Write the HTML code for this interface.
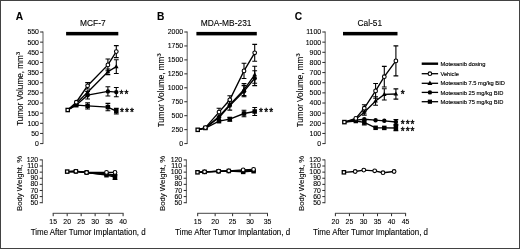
<!DOCTYPE html>
<html><head><meta charset="utf-8"><style>
html,body{margin:0;padding:0;background:#fff;}
body{width:520px;height:249px;overflow:hidden;position:relative;}
svg{position:absolute;left:0;top:0;display:block;}
text{font-family:"Liberation Sans", Arial, sans-serif;fill:#000;stroke:#000;stroke-width:0.1px;}
</style></head><body>
<svg width="520" height="249" viewBox="0 0 520 249">
<rect x="0" y="0" width="520" height="249" fill="#fff"/>

<text x="15.8" y="19.6" font-size="10.2" text-anchor="start" font-weight="bold" >A</text>
<text x="92.8" y="26.1" font-size="8.4" text-anchor="middle" font-weight="normal" >MCF-7</text>
<rect x="66.1" y="31.9" width="52.2" height="3.5" fill="#000"/>
<path d="M43 31.5V144.1" stroke="#6a6a6a" stroke-width="1.1" fill="none"/>
<path d="M40.1 32H43" stroke="#2a2a2a" stroke-width="1"/>
<text x="38.9" y="34.45" font-size="6.9" text-anchor="end" font-weight="normal" >550</text>
<path d="M40.1 42.15H43" stroke="#2a2a2a" stroke-width="1"/>
<text x="38.9" y="44.6" font-size="6.9" text-anchor="end" font-weight="normal" >500</text>
<path d="M40.1 52.29H43" stroke="#2a2a2a" stroke-width="1"/>
<text x="38.9" y="54.74" font-size="6.9" text-anchor="end" font-weight="normal" >450</text>
<path d="M40.1 62.44H43" stroke="#2a2a2a" stroke-width="1"/>
<text x="38.9" y="64.89" font-size="6.9" text-anchor="end" font-weight="normal" >400</text>
<path d="M40.1 72.58H43" stroke="#2a2a2a" stroke-width="1"/>
<text x="38.9" y="75.03" font-size="6.9" text-anchor="end" font-weight="normal" >350</text>
<path d="M40.1 82.73H43" stroke="#2a2a2a" stroke-width="1"/>
<text x="38.9" y="85.18" font-size="6.9" text-anchor="end" font-weight="normal" >300</text>
<path d="M40.1 92.87H43" stroke="#2a2a2a" stroke-width="1"/>
<text x="38.9" y="95.32" font-size="6.9" text-anchor="end" font-weight="normal" >250</text>
<path d="M40.1 103.02H43" stroke="#2a2a2a" stroke-width="1"/>
<text x="38.9" y="105.47" font-size="6.9" text-anchor="end" font-weight="normal" >200</text>
<path d="M40.1 113.16H43" stroke="#2a2a2a" stroke-width="1"/>
<text x="38.9" y="115.61" font-size="6.9" text-anchor="end" font-weight="normal" >150</text>
<path d="M40.1 123.31H43" stroke="#2a2a2a" stroke-width="1"/>
<text x="38.9" y="125.76" font-size="6.9" text-anchor="end" font-weight="normal" >100</text>
<path d="M40.1 133.45H43" stroke="#2a2a2a" stroke-width="1"/>
<text x="38.9" y="135.9" font-size="6.9" text-anchor="end" font-weight="normal" >50</text>
<path d="M40.1 143.6H43" stroke="#2a2a2a" stroke-width="1"/>
<text x="38.9" y="146.05" font-size="6.9" text-anchor="end" font-weight="normal" >0</text>
<path d="M42.4 159.4V203.2" stroke="#6a6a6a" stroke-width="1.1" fill="none"/>
<path d="M39.7 159.9H42.4" stroke="#2a2a2a" stroke-width="1"/>
<text x="38.2" y="162" font-size="6.9" text-anchor="end" font-weight="normal" >120</text>
<path d="M39.7 166.01H42.4" stroke="#2a2a2a" stroke-width="1"/>
<text x="38.2" y="168.11" font-size="6.9" text-anchor="end" font-weight="normal" >110</text>
<path d="M39.7 172.13H42.4" stroke="#2a2a2a" stroke-width="1"/>
<text x="38.2" y="174.23" font-size="6.9" text-anchor="end" font-weight="normal" >100</text>
<path d="M39.7 178.24H42.4" stroke="#2a2a2a" stroke-width="1"/>
<text x="38.2" y="180.34" font-size="6.9" text-anchor="end" font-weight="normal" >90</text>
<path d="M39.7 184.36H42.4" stroke="#2a2a2a" stroke-width="1"/>
<text x="38.2" y="186.46" font-size="6.9" text-anchor="end" font-weight="normal" >80</text>
<path d="M39.7 190.47H42.4" stroke="#2a2a2a" stroke-width="1"/>
<text x="38.2" y="192.57" font-size="6.9" text-anchor="end" font-weight="normal" >70</text>
<path d="M39.7 196.59H42.4" stroke="#2a2a2a" stroke-width="1"/>
<text x="38.2" y="198.69" font-size="6.9" text-anchor="end" font-weight="normal" >60</text>
<path d="M39.7 202.7H42.4" stroke="#2a2a2a" stroke-width="1"/>
<text x="38.2" y="204.8" font-size="6.9" text-anchor="end" font-weight="normal" >50</text>
<path d="M52.7 213.4H123.6" stroke="#6a6a6a" stroke-width="1.1" fill="none"/>
<path d="M53.2 213.4V216.2" stroke="#2a2a2a" stroke-width="1"/>
<text x="53.2" y="223.9" font-size="6.9" text-anchor="middle" font-weight="normal" >15</text>
<path d="M67.18 213.4V216.2" stroke="#2a2a2a" stroke-width="1"/>
<text x="67.18" y="223.9" font-size="6.9" text-anchor="middle" font-weight="normal" >20</text>
<path d="M81.16 213.4V216.2" stroke="#2a2a2a" stroke-width="1"/>
<text x="81.16" y="223.9" font-size="6.9" text-anchor="middle" font-weight="normal" >25</text>
<path d="M95.14 213.4V216.2" stroke="#2a2a2a" stroke-width="1"/>
<text x="95.14" y="223.9" font-size="6.9" text-anchor="middle" font-weight="normal" >30</text>
<path d="M109.12 213.4V216.2" stroke="#2a2a2a" stroke-width="1"/>
<text x="109.12" y="223.9" font-size="6.9" text-anchor="middle" font-weight="normal" >35</text>
<path d="M123.1 213.4V216.2" stroke="#2a2a2a" stroke-width="1"/>
<text x="123.1" y="223.9" font-size="6.9" text-anchor="middle" font-weight="normal" >40</text>
<text x="88.2" y="234.6" font-size="8.2" text-anchor="middle" font-weight="normal" textLength="115" lengthAdjust="spacingAndGlyphs">Time After Tumor Implantation, d</text>
<text transform="translate(22.9,88.85) rotate(-90)" font-size="8.15" text-anchor="middle">Tumor Volume, mm<tspan font-size="6.2" dy="-3.0">3</tspan></text>
<text transform="translate(22.4,183.4) rotate(-90)" font-size="7.8" text-anchor="middle">Body Weight, %</text>
<polyline points="67.7,110 76.3,105.2 87.6,105.9 107.9,107.1 116.3,111.2" fill="none" stroke="#000" stroke-width="1.35"/>
<path d="M87.6 102.8V109M85.2 102.8H90M85.2 109H90" stroke="#000" stroke-width="1.1" fill="none"/>
<path d="M107.9 103.4V110.8M105.5 103.4H110.3M105.5 110.8H110.3" stroke="#000" stroke-width="1.1" fill="none"/>
<path d="M116.3 108.4V114M113.9 108.4H118.7M113.9 114H118.7" stroke="#000" stroke-width="1.1" fill="none"/>
<rect x="74.05" y="102.95" width="4.5" height="4.5" fill="#000"/>
<rect x="85.35" y="103.65" width="4.5" height="4.5" fill="#000"/>
<rect x="105.65" y="104.85" width="4.5" height="4.5" fill="#000"/>
<rect x="114.05" y="108.95" width="4.5" height="4.5" fill="#000"/>
<polyline points="67.7,110 76.3,104.9 87.6,95.2 107.9,91.4 116.3,92.1" fill="none" stroke="#000" stroke-width="1.35"/>
<path d="M87.6 91.4V99M85.2 91.4H90M85.2 99H90" stroke="#000" stroke-width="1.1" fill="none"/>
<path d="M107.9 86.8V96M105.5 86.8H110.3M105.5 96H110.3" stroke="#000" stroke-width="1.1" fill="none"/>
<path d="M116.3 87.5V96.7M113.9 87.5H118.7M113.9 96.7H118.7" stroke="#000" stroke-width="1.1" fill="none"/>
<circle cx="76.3" cy="104.9" r="2.2" fill="#000"/>
<circle cx="87.6" cy="95.2" r="2.2" fill="#000"/>
<circle cx="107.9" cy="91.4" r="2.2" fill="#000"/>
<circle cx="116.3" cy="92.1" r="2.2" fill="#000"/>
<polyline points="67.7,110 76.3,103.6 87.6,92.2 107.9,71.8 116.3,66.6" fill="none" stroke="#000" stroke-width="1.35"/>
<path d="M107.9 69V74.6M105.5 69H110.3M105.5 74.6H110.3" stroke="#000" stroke-width="1.1" fill="none"/>
<path d="M116.3 59.7V73.5M113.9 59.7H118.7M113.9 73.5H118.7" stroke="#000" stroke-width="1.1" fill="none"/>
<polygon points="76.3,101.03 74,105.17 78.6,105.17" fill="#000"/>
<polygon points="87.6,89.63 85.3,93.77 89.9,93.77" fill="#000"/>
<polygon points="107.9,69.23 105.6,73.37 110.2,73.37" fill="#000"/>
<polygon points="116.3,64.03 114,68.17 118.6,68.17" fill="#000"/>
<polyline points="67.7,110 76.3,102.2 87.6,85.8 107.9,64.9 116.3,51.6" fill="none" stroke="#000" stroke-width="1.35"/>
<path d="M87.6 82.6V89M85.2 82.6H90M85.2 89H90" stroke="#000" stroke-width="1.1" fill="none"/>
<path d="M107.9 59V70.8M105.5 59H110.3M105.5 70.8H110.3" stroke="#000" stroke-width="1.1" fill="none"/>
<path d="M116.3 45.6V57.6M113.9 45.6H118.7M113.9 57.6H118.7" stroke="#000" stroke-width="1.1" fill="none"/>
<circle cx="76.3" cy="102.2" r="1.85" fill="#fff" stroke="#000" stroke-width="1.1"/>
<circle cx="87.6" cy="85.8" r="1.85" fill="#fff" stroke="#000" stroke-width="1.1"/>
<circle cx="107.9" cy="64.9" r="1.85" fill="#fff" stroke="#000" stroke-width="1.1"/>
<circle cx="116.3" cy="51.6" r="1.85" fill="#fff" stroke="#000" stroke-width="1.1"/>
<rect x="66.05" y="108.35" width="3.3" height="3.3" fill="#fff" stroke="#000" stroke-width="1.3"/>
<polyline points="67.2,171.6 75.9,171.4 86.6,172.5 106.5,175.2 115,177" fill="none" stroke="#000" stroke-width="1.35"/>
<path d="M115 174.5V179.5M112.6 174.5H117.4M112.6 179.5H117.4" stroke="#000" stroke-width="1.1" fill="none"/>
<rect x="73.65" y="169.15" width="4.5" height="4.5" fill="#000"/>
<rect x="84.35" y="170.25" width="4.5" height="4.5" fill="#000"/>
<rect x="104.25" y="172.95" width="4.5" height="4.5" fill="#000"/>
<rect x="112.75" y="174.75" width="4.5" height="4.5" fill="#000"/>
<polyline points="67.2,171.6 75.9,171.4 86.6,172.5 106.5,174.6 115,175.6" fill="none" stroke="#000" stroke-width="1.35"/>
<circle cx="75.9" cy="171.4" r="2.2" fill="#000"/>
<circle cx="86.6" cy="172.5" r="2.2" fill="#000"/>
<circle cx="106.5" cy="174.6" r="2.2" fill="#000"/>
<circle cx="115" cy="175.6" r="2.2" fill="#000"/>
<polyline points="67.2,171.6 75.9,171.4 86.6,172.5 106.5,173.9 115,174.8" fill="none" stroke="#000" stroke-width="1.35"/>
<polygon points="75.9,168.83 73.6,172.97 78.2,172.97" fill="#000"/>
<polygon points="86.6,169.93 84.3,174.07 88.9,174.07" fill="#000"/>
<polygon points="106.5,171.33 104.2,175.47 108.8,175.47" fill="#000"/>
<polygon points="115,172.23 112.7,176.37 117.3,176.37" fill="#000"/>
<polyline points="67.2,171.6 75.9,171.3 86.6,172.5 106.5,172.4 115,172.4" fill="none" stroke="#000" stroke-width="1.35"/>
<circle cx="75.9" cy="171.3" r="1.85" fill="#fff" stroke="#000" stroke-width="1.1"/>
<circle cx="86.6" cy="172.5" r="1.85" fill="#fff" stroke="#000" stroke-width="1.1"/>
<circle cx="106.5" cy="172.4" r="1.85" fill="#fff" stroke="#000" stroke-width="1.1"/>
<circle cx="115" cy="172.4" r="1.85" fill="#fff" stroke="#000" stroke-width="1.1"/>
<rect x="65.55" y="169.95" width="3.3" height="3.3" fill="#fff" stroke="#000" stroke-width="1.3"/>
<text x="157" y="19.6" font-size="10.2" text-anchor="start" font-weight="bold" >B</text>
<text x="226.1" y="26.1" font-size="8.4" text-anchor="middle" font-weight="normal" >MDA-MB-231</text>
<rect x="196.4" y="31.9" width="60.4" height="3.5" fill="#000"/>
<path d="M187.2 31.5V144.1" stroke="#6a6a6a" stroke-width="1.1" fill="none"/>
<path d="M184.3 32H187.2" stroke="#2a2a2a" stroke-width="1"/>
<text x="183.1" y="34.45" font-size="6.9" text-anchor="end" font-weight="normal" >2000</text>
<path d="M184.3 45.95H187.2" stroke="#2a2a2a" stroke-width="1"/>
<text x="183.1" y="48.4" font-size="6.9" text-anchor="end" font-weight="normal" >1750</text>
<path d="M184.3 59.9H187.2" stroke="#2a2a2a" stroke-width="1"/>
<text x="183.1" y="62.35" font-size="6.9" text-anchor="end" font-weight="normal" >1500</text>
<path d="M184.3 73.85H187.2" stroke="#2a2a2a" stroke-width="1"/>
<text x="183.1" y="76.3" font-size="6.9" text-anchor="end" font-weight="normal" >1250</text>
<path d="M184.3 87.8H187.2" stroke="#2a2a2a" stroke-width="1"/>
<text x="183.1" y="90.25" font-size="6.9" text-anchor="end" font-weight="normal" >1000</text>
<path d="M184.3 101.75H187.2" stroke="#2a2a2a" stroke-width="1"/>
<text x="183.1" y="104.2" font-size="6.9" text-anchor="end" font-weight="normal" >750</text>
<path d="M184.3 115.7H187.2" stroke="#2a2a2a" stroke-width="1"/>
<text x="183.1" y="118.15" font-size="6.9" text-anchor="end" font-weight="normal" >500</text>
<path d="M184.3 129.65H187.2" stroke="#2a2a2a" stroke-width="1"/>
<text x="183.1" y="132.1" font-size="6.9" text-anchor="end" font-weight="normal" >250</text>
<path d="M184.3 143.6H187.2" stroke="#2a2a2a" stroke-width="1"/>
<text x="183.1" y="146.05" font-size="6.9" text-anchor="end" font-weight="normal" >0</text>
<path d="M186.4 159.4V203.2" stroke="#6a6a6a" stroke-width="1.1" fill="none"/>
<path d="M183.7 159.9H186.4" stroke="#2a2a2a" stroke-width="1"/>
<text x="182.2" y="162" font-size="6.9" text-anchor="end" font-weight="normal" >120</text>
<path d="M183.7 166.01H186.4" stroke="#2a2a2a" stroke-width="1"/>
<text x="182.2" y="168.11" font-size="6.9" text-anchor="end" font-weight="normal" >110</text>
<path d="M183.7 172.13H186.4" stroke="#2a2a2a" stroke-width="1"/>
<text x="182.2" y="174.23" font-size="6.9" text-anchor="end" font-weight="normal" >100</text>
<path d="M183.7 178.24H186.4" stroke="#2a2a2a" stroke-width="1"/>
<text x="182.2" y="180.34" font-size="6.9" text-anchor="end" font-weight="normal" >90</text>
<path d="M183.7 184.36H186.4" stroke="#2a2a2a" stroke-width="1"/>
<text x="182.2" y="186.46" font-size="6.9" text-anchor="end" font-weight="normal" >80</text>
<path d="M183.7 190.47H186.4" stroke="#2a2a2a" stroke-width="1"/>
<text x="182.2" y="192.57" font-size="6.9" text-anchor="end" font-weight="normal" >70</text>
<path d="M183.7 196.59H186.4" stroke="#2a2a2a" stroke-width="1"/>
<text x="182.2" y="198.69" font-size="6.9" text-anchor="end" font-weight="normal" >60</text>
<path d="M183.7 202.7H186.4" stroke="#2a2a2a" stroke-width="1"/>
<text x="182.2" y="204.8" font-size="6.9" text-anchor="end" font-weight="normal" >50</text>
<path d="M197.2 213.4H268" stroke="#6a6a6a" stroke-width="1.1" fill="none"/>
<path d="M197.7 213.4V216.2" stroke="#2a2a2a" stroke-width="1"/>
<text x="197.7" y="223.9" font-size="6.9" text-anchor="middle" font-weight="normal" >15</text>
<path d="M215.15 213.4V216.2" stroke="#2a2a2a" stroke-width="1"/>
<text x="215.15" y="223.9" font-size="6.9" text-anchor="middle" font-weight="normal" >20</text>
<path d="M232.6 213.4V216.2" stroke="#2a2a2a" stroke-width="1"/>
<text x="232.6" y="223.9" font-size="6.9" text-anchor="middle" font-weight="normal" >25</text>
<path d="M250.05 213.4V216.2" stroke="#2a2a2a" stroke-width="1"/>
<text x="250.05" y="223.9" font-size="6.9" text-anchor="middle" font-weight="normal" >30</text>
<path d="M267.5 213.4V216.2" stroke="#2a2a2a" stroke-width="1"/>
<text x="267.5" y="223.9" font-size="6.9" text-anchor="middle" font-weight="normal" >35</text>
<text x="232.6" y="234.6" font-size="8.2" text-anchor="middle" font-weight="normal" textLength="115" lengthAdjust="spacingAndGlyphs">Time After Tumor Implantation, d</text>
<text transform="translate(164.2,90.3) rotate(-90)" font-size="8.15" text-anchor="middle">Tumor Volume, mm<tspan font-size="6.2" dy="-3.0">3</tspan></text>
<text transform="translate(164.6,183.4) rotate(-90)" font-size="7.8" text-anchor="middle">Body Weight, %</text>
<polyline points="197.6,129.8 205.4,128 219,121.2 229.8,119.2 244,113.5 254.7,111.5" fill="none" stroke="#000" stroke-width="1.35"/>
<path d="M229.8 117.2V121.2M227.4 117.2H232.2M227.4 121.2H232.2" stroke="#000" stroke-width="1.1" fill="none"/>
<path d="M244 110.3V116.7M241.6 110.3H246.4M241.6 116.7H246.4" stroke="#000" stroke-width="1.1" fill="none"/>
<path d="M254.7 107.5V115.5M252.3 107.5H257.1M252.3 115.5H257.1" stroke="#000" stroke-width="1.1" fill="none"/>
<rect x="203.15" y="125.75" width="4.5" height="4.5" fill="#000"/>
<rect x="216.75" y="118.95" width="4.5" height="4.5" fill="#000"/>
<rect x="227.55" y="116.95" width="4.5" height="4.5" fill="#000"/>
<rect x="241.75" y="111.25" width="4.5" height="4.5" fill="#000"/>
<rect x="252.45" y="109.25" width="4.5" height="4.5" fill="#000"/>
<polyline points="197.6,129.8 205.4,127.9 219,117.6 229.8,105.6 244,91.2 254.7,78.2" fill="none" stroke="#000" stroke-width="1.35"/>
<path d="M229.8 101.1V110.1M227.4 101.1H232.2M227.4 110.1H232.2" stroke="#000" stroke-width="1.1" fill="none"/>
<path d="M244 85.6V96.8M241.6 85.6H246.4M241.6 96.8H246.4" stroke="#000" stroke-width="1.1" fill="none"/>
<path d="M254.7 70.8V85.6M252.3 70.8H257.1M252.3 85.6H257.1" stroke="#000" stroke-width="1.1" fill="none"/>
<circle cx="205.4" cy="127.9" r="2.2" fill="#000"/>
<circle cx="219" cy="117.6" r="2.2" fill="#000"/>
<circle cx="229.8" cy="105.6" r="2.2" fill="#000"/>
<circle cx="244" cy="91.2" r="2.2" fill="#000"/>
<circle cx="254.7" cy="78.2" r="2.2" fill="#000"/>
<polyline points="197.6,129.8 205.4,127.9 219,116.4 229.8,104.8 244,89.6 254.7,74.8" fill="none" stroke="#000" stroke-width="1.35"/>
<path d="M244 83.6V95.6M241.6 83.6H246.4M241.6 95.6H246.4" stroke="#000" stroke-width="1.1" fill="none"/>
<path d="M254.7 66.3V83.3M252.3 66.3H257.1M252.3 83.3H257.1" stroke="#000" stroke-width="1.1" fill="none"/>
<polygon points="205.4,125.33 203.1,129.47 207.7,129.47" fill="#000"/>
<polygon points="219,113.83 216.7,117.97 221.3,117.97" fill="#000"/>
<polygon points="229.8,102.23 227.5,106.37 232.1,106.37" fill="#000"/>
<polygon points="244,87.03 241.7,91.17 246.3,91.17" fill="#000"/>
<polygon points="254.7,72.23 252.4,76.37 257,76.37" fill="#000"/>
<polyline points="197.6,129.8 205.4,127.6 219,112.1 229.8,99.8 244,70.9 254.7,52.8" fill="none" stroke="#000" stroke-width="1.35"/>
<path d="M219 108.2V116M216.6 108.2H221.4M216.6 116H221.4" stroke="#000" stroke-width="1.1" fill="none"/>
<path d="M229.8 95.8V103.8M227.4 95.8H232.2M227.4 103.8H232.2" stroke="#000" stroke-width="1.1" fill="none"/>
<path d="M244 63.3V78.5M241.6 63.3H246.4M241.6 78.5H246.4" stroke="#000" stroke-width="1.1" fill="none"/>
<path d="M254.7 44.4V61.2M252.3 44.4H257.1M252.3 61.2H257.1" stroke="#000" stroke-width="1.1" fill="none"/>
<circle cx="205.4" cy="127.6" r="1.85" fill="#fff" stroke="#000" stroke-width="1.1"/>
<circle cx="219" cy="112.1" r="1.85" fill="#fff" stroke="#000" stroke-width="1.1"/>
<circle cx="229.8" cy="99.8" r="1.85" fill="#fff" stroke="#000" stroke-width="1.1"/>
<circle cx="244" cy="70.9" r="1.85" fill="#fff" stroke="#000" stroke-width="1.1"/>
<circle cx="254.7" cy="52.8" r="1.85" fill="#fff" stroke="#000" stroke-width="1.1"/>
<rect x="196.05" y="128.15" width="3.3" height="3.3" fill="#fff" stroke="#000" stroke-width="1.3"/>
<polyline points="197.5,172.3 204.6,171.9 218.6,171.3 228.8,171 243.2,171.9 253.6,171.2" fill="none" stroke="#000" stroke-width="1.35"/>
<rect x="202.35" y="169.65" width="4.5" height="4.5" fill="#000"/>
<rect x="216.35" y="169.05" width="4.5" height="4.5" fill="#000"/>
<rect x="226.55" y="168.75" width="4.5" height="4.5" fill="#000"/>
<rect x="240.95" y="169.65" width="4.5" height="4.5" fill="#000"/>
<rect x="251.35" y="168.95" width="4.5" height="4.5" fill="#000"/>
<polyline points="197.5,172.3 204.6,171.9 218.6,171.3 228.8,171 243.2,171.4 253.6,170.6" fill="none" stroke="#000" stroke-width="1.35"/>
<circle cx="204.6" cy="171.9" r="2.2" fill="#000"/>
<circle cx="218.6" cy="171.3" r="2.2" fill="#000"/>
<circle cx="228.8" cy="171" r="2.2" fill="#000"/>
<circle cx="243.2" cy="171.4" r="2.2" fill="#000"/>
<circle cx="253.6" cy="170.6" r="2.2" fill="#000"/>
<polyline points="197.5,172.3 204.6,171.9 218.6,171.3 228.8,171 243.2,171 253.6,170.4" fill="none" stroke="#000" stroke-width="1.35"/>
<polygon points="204.6,169.33 202.3,173.47 206.9,173.47" fill="#000"/>
<polygon points="218.6,168.73 216.3,172.87 220.9,172.87" fill="#000"/>
<polygon points="228.8,168.43 226.5,172.57 231.1,172.57" fill="#000"/>
<polygon points="243.2,168.43 240.9,172.57 245.5,172.57" fill="#000"/>
<polygon points="253.6,167.83 251.3,171.97 255.9,171.97" fill="#000"/>
<polyline points="197.5,172.3 204.6,171.8 218.6,171.1 228.8,170.8 243.2,169.9 253.6,169.4" fill="none" stroke="#000" stroke-width="1.35"/>
<circle cx="204.6" cy="171.8" r="1.85" fill="#fff" stroke="#000" stroke-width="1.1"/>
<circle cx="218.6" cy="171.1" r="1.85" fill="#fff" stroke="#000" stroke-width="1.1"/>
<circle cx="228.8" cy="170.8" r="1.85" fill="#fff" stroke="#000" stroke-width="1.1"/>
<circle cx="243.2" cy="169.9" r="1.85" fill="#fff" stroke="#000" stroke-width="1.1"/>
<circle cx="253.6" cy="169.4" r="1.85" fill="#fff" stroke="#000" stroke-width="1.1"/>
<rect x="195.85" y="170.65" width="3.3" height="3.3" fill="#fff" stroke="#000" stroke-width="1.3"/>
<text x="294.8" y="19.6" font-size="10.2" text-anchor="start" font-weight="bold" >C</text>
<text x="369.8" y="26.1" font-size="8.4" text-anchor="middle" font-weight="normal" >Cal-51</text>
<rect x="343" y="31.9" width="54.5" height="3.5" fill="#000"/>
<path d="M325.2 31.5V144.1" stroke="#6a6a6a" stroke-width="1.1" fill="none"/>
<path d="M322.3 32H325.2" stroke="#2a2a2a" stroke-width="1"/>
<text x="321.1" y="34.45" font-size="6.9" text-anchor="end" font-weight="normal" >1100</text>
<path d="M322.3 42.15H325.2" stroke="#2a2a2a" stroke-width="1"/>
<text x="321.1" y="44.6" font-size="6.9" text-anchor="end" font-weight="normal" >1000</text>
<path d="M322.3 52.29H325.2" stroke="#2a2a2a" stroke-width="1"/>
<text x="321.1" y="54.74" font-size="6.9" text-anchor="end" font-weight="normal" >900</text>
<path d="M322.3 62.44H325.2" stroke="#2a2a2a" stroke-width="1"/>
<text x="321.1" y="64.89" font-size="6.9" text-anchor="end" font-weight="normal" >800</text>
<path d="M322.3 72.58H325.2" stroke="#2a2a2a" stroke-width="1"/>
<text x="321.1" y="75.03" font-size="6.9" text-anchor="end" font-weight="normal" >700</text>
<path d="M322.3 82.73H325.2" stroke="#2a2a2a" stroke-width="1"/>
<text x="321.1" y="85.18" font-size="6.9" text-anchor="end" font-weight="normal" >600</text>
<path d="M322.3 92.87H325.2" stroke="#2a2a2a" stroke-width="1"/>
<text x="321.1" y="95.32" font-size="6.9" text-anchor="end" font-weight="normal" >500</text>
<path d="M322.3 103.02H325.2" stroke="#2a2a2a" stroke-width="1"/>
<text x="321.1" y="105.47" font-size="6.9" text-anchor="end" font-weight="normal" >400</text>
<path d="M322.3 113.16H325.2" stroke="#2a2a2a" stroke-width="1"/>
<text x="321.1" y="115.61" font-size="6.9" text-anchor="end" font-weight="normal" >300</text>
<path d="M322.3 123.31H325.2" stroke="#2a2a2a" stroke-width="1"/>
<text x="321.1" y="125.76" font-size="6.9" text-anchor="end" font-weight="normal" >200</text>
<path d="M322.3 133.45H325.2" stroke="#2a2a2a" stroke-width="1"/>
<text x="321.1" y="135.9" font-size="6.9" text-anchor="end" font-weight="normal" >100</text>
<path d="M322.3 143.6H325.2" stroke="#2a2a2a" stroke-width="1"/>
<text x="321.1" y="146.05" font-size="6.9" text-anchor="end" font-weight="normal" >0</text>
<path d="M325 159.4V203.2" stroke="#6a6a6a" stroke-width="1.1" fill="none"/>
<path d="M322.3 159.9H325" stroke="#2a2a2a" stroke-width="1"/>
<text x="320.8" y="162" font-size="6.9" text-anchor="end" font-weight="normal" >120</text>
<path d="M322.3 166.01H325" stroke="#2a2a2a" stroke-width="1"/>
<text x="320.8" y="168.11" font-size="6.9" text-anchor="end" font-weight="normal" >110</text>
<path d="M322.3 172.13H325" stroke="#2a2a2a" stroke-width="1"/>
<text x="320.8" y="174.23" font-size="6.9" text-anchor="end" font-weight="normal" >100</text>
<path d="M322.3 178.24H325" stroke="#2a2a2a" stroke-width="1"/>
<text x="320.8" y="180.34" font-size="6.9" text-anchor="end" font-weight="normal" >90</text>
<path d="M322.3 184.36H325" stroke="#2a2a2a" stroke-width="1"/>
<text x="320.8" y="186.46" font-size="6.9" text-anchor="end" font-weight="normal" >80</text>
<path d="M322.3 190.47H325" stroke="#2a2a2a" stroke-width="1"/>
<text x="320.8" y="192.57" font-size="6.9" text-anchor="end" font-weight="normal" >70</text>
<path d="M322.3 196.59H325" stroke="#2a2a2a" stroke-width="1"/>
<text x="320.8" y="198.69" font-size="6.9" text-anchor="end" font-weight="normal" >60</text>
<path d="M322.3 202.7H325" stroke="#2a2a2a" stroke-width="1"/>
<text x="320.8" y="204.8" font-size="6.9" text-anchor="end" font-weight="normal" >50</text>
<path d="M334.9 213.4H406.1" stroke="#6a6a6a" stroke-width="1.1" fill="none"/>
<path d="M335.4 213.4V216.2" stroke="#2a2a2a" stroke-width="1"/>
<text x="335.4" y="223.9" font-size="6.9" text-anchor="middle" font-weight="normal" >20</text>
<path d="M349.44 213.4V216.2" stroke="#2a2a2a" stroke-width="1"/>
<text x="349.44" y="223.9" font-size="6.9" text-anchor="middle" font-weight="normal" >25</text>
<path d="M363.48 213.4V216.2" stroke="#2a2a2a" stroke-width="1"/>
<text x="363.48" y="223.9" font-size="6.9" text-anchor="middle" font-weight="normal" >30</text>
<path d="M377.52 213.4V216.2" stroke="#2a2a2a" stroke-width="1"/>
<text x="377.52" y="223.9" font-size="6.9" text-anchor="middle" font-weight="normal" >35</text>
<path d="M391.56 213.4V216.2" stroke="#2a2a2a" stroke-width="1"/>
<text x="391.56" y="223.9" font-size="6.9" text-anchor="middle" font-weight="normal" >40</text>
<path d="M405.6 213.4V216.2" stroke="#2a2a2a" stroke-width="1"/>
<text x="405.6" y="223.9" font-size="6.9" text-anchor="middle" font-weight="normal" >45</text>
<text x="370.5" y="234.6" font-size="8.2" text-anchor="middle" font-weight="normal" textLength="115" lengthAdjust="spacingAndGlyphs">Time After Tumor Implantation, d</text>
<text transform="translate(302.7,90.3) rotate(-90)" font-size="8.15" text-anchor="middle">Tumor Volume, mm<tspan font-size="6.2" dy="-3.0">3</tspan></text>
<text transform="translate(304.2,183.4) rotate(-90)" font-size="7.8" text-anchor="middle">Body Weight, %</text>
<polyline points="344.4,122.1 355.8,121 364.3,122.4 375.6,127.8 384.3,127.9 395.9,128" fill="none" stroke="#000" stroke-width="1.35"/>
<path d="M364.3 119.9V124.9M361.9 119.9H366.7M361.9 124.9H366.7" stroke="#000" stroke-width="1.1" fill="none"/>
<path d="M395.9 125.4V130.6M393.5 125.4H398.3M393.5 130.6H398.3" stroke="#000" stroke-width="1.1" fill="none"/>
<rect x="353.55" y="118.75" width="4.5" height="4.5" fill="#000"/>
<rect x="362.05" y="120.15" width="4.5" height="4.5" fill="#000"/>
<rect x="373.35" y="125.55" width="4.5" height="4.5" fill="#000"/>
<rect x="382.05" y="125.65" width="4.5" height="4.5" fill="#000"/>
<rect x="393.65" y="125.75" width="4.5" height="4.5" fill="#000"/>
<polyline points="344.4,122.1 355.8,120.2 364.3,119.3 375.6,120.2 384.3,120.8 395.9,122" fill="none" stroke="#000" stroke-width="1.35"/>
<path d="M395.9 119.6V124.4M393.5 119.6H398.3M393.5 124.4H398.3" stroke="#000" stroke-width="1.1" fill="none"/>
<circle cx="355.8" cy="120.2" r="2.2" fill="#000"/>
<circle cx="364.3" cy="119.3" r="2.2" fill="#000"/>
<circle cx="375.6" cy="120.2" r="2.2" fill="#000"/>
<circle cx="384.3" cy="120.8" r="2.2" fill="#000"/>
<circle cx="395.9" cy="122" r="2.2" fill="#000"/>
<polyline points="344.4,122.1 355.8,119.2 364.3,112.3 375.6,101 384.3,94.4 395.9,94" fill="none" stroke="#000" stroke-width="1.35"/>
<path d="M364.3 109.5V115.1M361.9 109.5H366.7M361.9 115.1H366.7" stroke="#000" stroke-width="1.1" fill="none"/>
<path d="M375.6 96.8V105.2M373.2 96.8H378M373.2 105.2H378" stroke="#000" stroke-width="1.1" fill="none"/>
<path d="M384.3 88.8V100M381.9 88.8H386.7M381.9 100H386.7" stroke="#000" stroke-width="1.1" fill="none"/>
<path d="M395.9 88.9V99.1M393.5 88.9H398.3M393.5 99.1H398.3" stroke="#000" stroke-width="1.1" fill="none"/>
<polygon points="355.8,116.63 353.5,120.77 358.1,120.77" fill="#000"/>
<polygon points="364.3,109.73 362,113.87 366.6,113.87" fill="#000"/>
<polygon points="375.6,98.43 373.3,102.57 377.9,102.57" fill="#000"/>
<polygon points="384.3,91.83 382,95.97 386.6,95.97" fill="#000"/>
<polygon points="395.9,91.43 393.6,95.57 398.2,95.57" fill="#000"/>
<polyline points="344.4,122.1 355.8,118.4 364.3,108.2 375.6,90.9 384.3,76.7 395.9,60.9" fill="none" stroke="#000" stroke-width="1.35"/>
<path d="M364.3 104.7V111.7M361.9 104.7H366.7M361.9 111.7H366.7" stroke="#000" stroke-width="1.1" fill="none"/>
<path d="M375.6 83.5V98.3M373.2 83.5H378M373.2 98.3H378" stroke="#000" stroke-width="1.1" fill="none"/>
<path d="M384.3 66.4V87M381.9 66.4H386.7M381.9 87H386.7" stroke="#000" stroke-width="1.1" fill="none"/>
<path d="M395.9 45.9V75.9M393.5 45.9H398.3M393.5 75.9H398.3" stroke="#000" stroke-width="1.1" fill="none"/>
<circle cx="355.8" cy="118.4" r="1.85" fill="#fff" stroke="#000" stroke-width="1.1"/>
<circle cx="364.3" cy="108.2" r="1.85" fill="#fff" stroke="#000" stroke-width="1.1"/>
<circle cx="375.6" cy="90.9" r="1.85" fill="#fff" stroke="#000" stroke-width="1.1"/>
<circle cx="384.3" cy="76.7" r="1.85" fill="#fff" stroke="#000" stroke-width="1.1"/>
<circle cx="395.9" cy="60.9" r="1.85" fill="#fff" stroke="#000" stroke-width="1.1"/>
<rect x="342.75" y="120.45" width="3.3" height="3.3" fill="#fff" stroke="#000" stroke-width="1.3"/>
<polyline points="343.9,172.3 355.2,171.5 363.8,170.1 374.7,170.8 383,172.7 394.1,171.5" fill="none" stroke="#000" stroke-width="1.35"/>
<circle cx="355.2" cy="171.5" r="1.85" fill="#fff" stroke="#000" stroke-width="1.1"/>
<circle cx="363.8" cy="170.1" r="1.85" fill="#fff" stroke="#000" stroke-width="1.1"/>
<circle cx="374.7" cy="170.8" r="1.85" fill="#fff" stroke="#000" stroke-width="1.1"/>
<circle cx="383" cy="172.7" r="1.85" fill="#fff" stroke="#000" stroke-width="1.1"/>
<circle cx="394.1" cy="171.5" r="1.85" fill="#fff" stroke="#000" stroke-width="1.1"/>
<rect x="342.25" y="170.65" width="3.3" height="3.3" fill="#fff" stroke="#000" stroke-width="1.3"/>
<text x="119.6" y="97.7" font-size="10" text-anchor="start" font-weight="normal" style="stroke-width:0.35px" letter-spacing="1.05">**</text>
<text x="120.1" y="115.6" font-size="10" text-anchor="start" font-weight="normal" style="stroke-width:0.35px" letter-spacing="1.1">***</text>
<text x="258.9" y="116.3" font-size="10" text-anchor="start" font-weight="normal" style="stroke-width:0.35px" letter-spacing="1.35">***</text>
<text x="400.8" y="97.9" font-size="10" text-anchor="start" font-weight="normal" style="stroke-width:0.35px">*</text>
<text x="400.8" y="127.7" font-size="10" text-anchor="start" font-weight="normal" style="stroke-width:0.35px" letter-spacing="0.95">***</text>
<text x="400.8" y="134.5" font-size="10" text-anchor="start" font-weight="normal" style="stroke-width:0.35px" letter-spacing="0.95">***</text>
<rect x="421.7" y="62.5" width="16.4" height="2.4" fill="#000"/>
<text x="440.4" y="65.85" font-size="5.95" text-anchor="start" font-weight="normal" style="stroke-width:0.14px" textLength="45.07" lengthAdjust="spacingAndGlyphs">Motesanib dosing</text>
<path d="M421.7 73.7H438.1" stroke="#000" stroke-width="1.3"/>
<circle cx="429.9" cy="73.7" r="1.8" fill="#fff" stroke="#000" stroke-width="1.1"/>
<text x="440.4" y="75.85" font-size="5.95" text-anchor="start" font-weight="normal" style="stroke-width:0.14px" textLength="18.54" lengthAdjust="spacingAndGlyphs">Vehicle</text>
<path d="M421.7 83.3H438.1" stroke="#000" stroke-width="1.3"/>
<polygon points="429.9,80.51 427.4,85.01 432.4,85.01" fill="#000"/>
<text x="440.4" y="85.45" font-size="5.95" text-anchor="start" font-weight="normal" style="stroke-width:0.14px" textLength="64.55" lengthAdjust="spacingAndGlyphs">Motesanib 7.5 mg/kg BID</text>
<path d="M421.7 92.4H438.1" stroke="#000" stroke-width="1.3"/>
<circle cx="429.9" cy="92.4" r="2.2" fill="#000"/>
<text x="440.4" y="94.55" font-size="5.95" text-anchor="start" font-weight="normal" style="stroke-width:0.14px" textLength="62.96" lengthAdjust="spacingAndGlyphs">Motesanib 25 mg/kg BID</text>
<path d="M421.7 101.7H438.1" stroke="#000" stroke-width="1.3"/>
<rect x="427.8" y="99.6" width="4.2" height="4.2" fill="#000"/>
<text x="440.4" y="103.85" font-size="5.95" text-anchor="start" font-weight="normal" style="stroke-width:0.14px" textLength="62.96" lengthAdjust="spacingAndGlyphs">Motesanib 75 mg/kg BID</text>
<rect x="0.5" y="0.5" width="519" height="248" fill="none" stroke="#424242" stroke-width="1"/>
</svg>
</body></html>
